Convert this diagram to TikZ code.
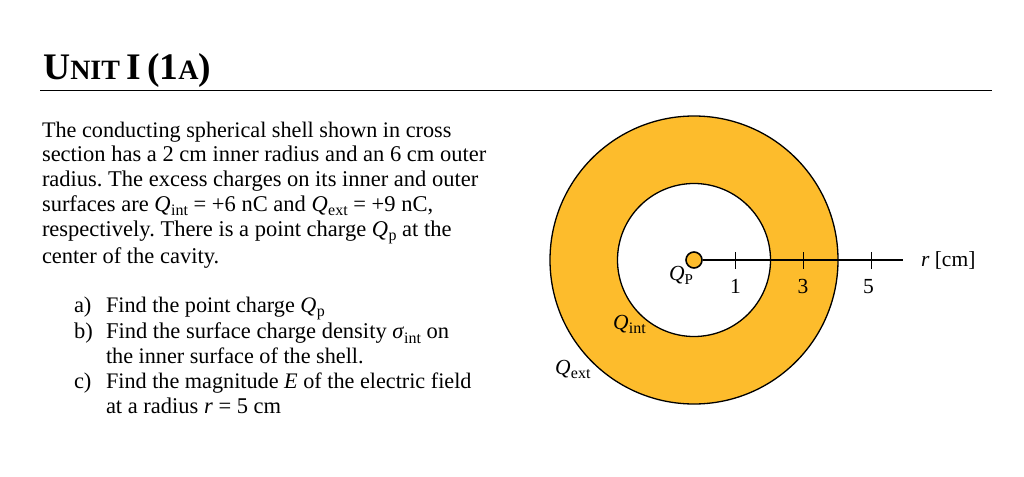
\documentclass[tikz,border=0pt]{standalone}
\usepackage{fontspec}
\setmainfont{Liberation Serif}
\definecolor{shell}{HTML}{FDBC2C}
\newcommand{\Qsub}[1]{\textit{Q}\kern0.02em\raisebox{-0.22em}{\fontsize{16}{16}\selectfont #1}}
\tikzset{
  txt/.style={anchor=base west,inner sep=0pt,outer sep=0pt,font=\frenchspacing\fontsize{22.5}{24}\selectfont},
  txtn/.style={txt,font=\frenchspacing\fontsize{22.2}{24}\selectfont},
  lab/.style={anchor=base west,inner sep=0pt,outer sep=0pt,font=\fontsize{21.5}{24}\selectfont},
  tick/.style={anchor=base,inner sep=0pt,outer sep=0pt,font=\fontsize{21.5}{24}\selectfont}
}
\begin{document}
\begin{tikzpicture}[x=1pt,y=-1pt]
\useasboundingbox (0,0) rectangle (1024,476);
% title
\node[anchor=base west,inner sep=0pt,font=\bfseries\fontsize{37.5}{40}\selectfont] (title) at (43,80)
  {U{\fontsize{28}{30}\selectfont NIT}\,I\,(1{\fontsize{28}{30}\selectfont A})};
\coordinate (ruleL) at (40,90.5);
\coordinate (ruleR) at (992,90.5);
\draw[line width=1pt] (ruleL) -- (ruleR);
% paragraph
\node[txtn] (p1) at (42,137) {The conducting spherical shell shown in cross};
\node[txt] (p2) at (42,161.5) {section has a 2 cm inner radius and an 6 cm outer};
\node[txt] (p3) at (42,186) {radius. The excess charges on its inner and outer};
\node[txt] (p4) at (42,211) {surfaces are \Qsub{int} = +6 nC and \Qsub{ext} = +9 nC,};
\node[txt] (p5) at (42,236) {respectively. There is a point charge \Qsub{p} at the};
\node[txt] (p6) at (42,263) {center of the cavity.};
% questions
\node[txt] (la) at (74,312) {a)};
\node[txtn] (qa) at (106,312) {Find the point charge \Qsub{p}};
\node[txt] (lb) at (74,338.5) {b)};
\node[txt] (qb) at (106,338.5) {Find the surface charge density \textit{σ}\raisebox{-0.22em}{\fontsize{16}{16}\selectfont int} on};
\node[txtn] (qb2) at (106,363.5) {the inner surface of the shell.};
\node[txt] (lc) at (74,388) {c)};
\node[txtn] (qc) at (106,388) {Find the magnitude \textit{E} of the electric field};
\node[txt] (qc2) at (106,413) {at a radius \textit{r} = 5 cm};
% shell
\coordinate (O) at (694,260);
\fill[shell,even odd rule] (O) circle[radius=144] (O) circle[radius=76.5];
\node[circle,draw,line width=1.3pt,minimum size=144*2pt,inner sep=0pt] (outer) at (O) {};
\node[circle,draw,line width=1.3pt,minimum size=76.5*2pt,inner sep=0pt] (inner) at (O) {};
% axis
\coordinate (axisEnd) at (903,260);
\node[circle,draw,fill=shell,line width=1.6pt,minimum size=16pt,inner sep=0pt] (qp) at (O) {};
\draw[line width=1.5pt] (qp.east) -- (axisEnd);
\foreach \nm/\x in {a/735.7,b/803,c/871}{
  \coordinate (t\nm u) at (\x,252);
  \coordinate (t\nm d) at (\x,269);
  \draw[line width=0.9pt] (t\nm u) -- (t\nm d);
}
\node[tick] (n1) at (735.5,293) {1};
\node[tick] (n3) at (803,293) {3};
\node[tick] (n5) at (868.5,293) {5};
\node[lab] (rlab) at (921,266) {\textit{r} [cm]};
\node[lab] (lqp) at (669,280) {\textit{Q}\raisebox{-0.22em}{\fontsize{15}{15}\selectfont P}};
\node[lab] (lqi) at (613,329) {\Qsub{int}};
\node[lab] (lqe) at (555,374) {\Qsub{ext}};
\end{tikzpicture}
\end{document}
